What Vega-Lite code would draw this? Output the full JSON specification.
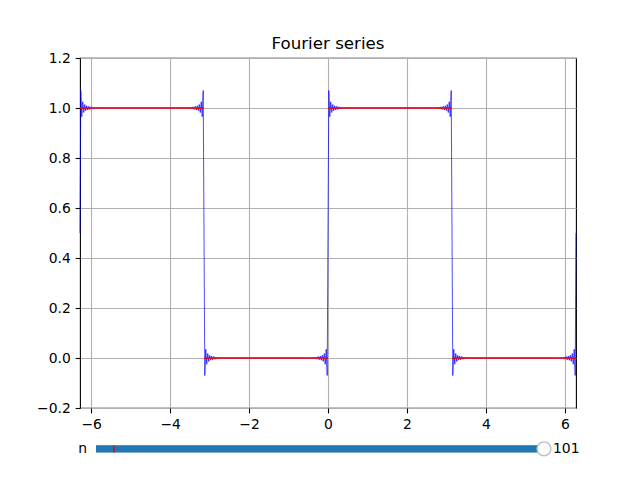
{
  "$schema": "https://vega.github.io/schema/vega-lite/v6.json",
  "width": 496,
  "height": 350,
  "autosize": {"type": "none"},
  "padding": {"left": 80, "top": 58, "right": 64, "bottom": 72},
  "background": "white",
  "config": {
    "view": {"stroke": "black", "strokeWidth": 1.1},
    "font": "DejaVu Sans",
    "axis": {
      "domain": false,
      "grid": true,
      "gridColor": "#b0b0b0",
      "gridWidth": 1.1,
      "gridOpacity": 1,
      "tickColor": "black",
      "tickSize": 4.86,
      "tickWidth": 1.1,
      "labelFont": "DejaVu Sans",
      "labelFontSize": 13.9,
      "labelColor": "black",
      "labelPadding": 4.86,
      "labelFlush": false,
      "labelOverlap": false
    }
  },
  "title": {
    "text": "Fourier series",
    "font": "DejaVu Sans",
    "fontSize": 16.67,
    "fontWeight": "normal",
    "color": "black",
    "offset": -2
  },
  "datasets": {
    "fourier": [
      {"x": -6.2832, "y": 0.5}, {"x": -6.2632, "y": 1.07}, {"x": -6.2382, "y": 0.965}, {"x": -6.2132, "y": 1.025},
      {"x": -6.1882, "y": 0.982}, {"x": -6.1632, "y": 1.014}, {"x": -6.1382, "y": 0.989}, {"x": -6.1132, "y": 1.009},
      {"x": -6.0882, "y": 0.992}, {"x": -6.0632, "y": 1.007}, {"x": -6.0332, "y": 0.994}, {"x": -6.0032, "y": 1.005},
      {"x": -5.9732, "y": 0.996}, {"x": -5.9432, "y": 1.0035}, {"x": -5.9132, "y": 0.997}, {"x": -5.8832, "y": 1.0025},
      {"x": -5.8332, "y": 0.998}, {"x": -5.7832, "y": 1.0015}, {"x": -5.6832, "y": 1.0},
      {"x": -3.7416, "y": 1.0}, {"x": -3.6416, "y": 1.0015}, {"x": -3.5916, "y": 0.998}, {"x": -3.5416, "y": 1.0025},
      {"x": -3.5116, "y": 0.997}, {"x": -3.4816, "y": 1.0035}, {"x": -3.4516, "y": 0.996}, {"x": -3.4216, "y": 1.005},
      {"x": -3.3916, "y": 0.994}, {"x": -3.3616, "y": 1.007}, {"x": -3.3366, "y": 0.992}, {"x": -3.3116, "y": 1.009},
      {"x": -3.2866, "y": 0.989}, {"x": -3.2616, "y": 1.014}, {"x": -3.2366, "y": 0.982}, {"x": -3.2116, "y": 1.025},
      {"x": -3.1866, "y": 0.965}, {"x": -3.1616, "y": 1.07}, {"x": -3.1416, "y": 0.5},
      {"x": -3.1216, "y": -0.07}, {"x": -3.0966, "y": 0.035}, {"x": -3.0716, "y": -0.025}, {"x": -3.0466, "y": 0.018},
      {"x": -3.0216, "y": -0.014}, {"x": -2.9966, "y": 0.011}, {"x": -2.9716, "y": -0.009}, {"x": -2.9466, "y": 0.008},
      {"x": -2.9216, "y": -0.007}, {"x": -2.8916, "y": 0.006}, {"x": -2.8616, "y": -0.005}, {"x": -2.8316, "y": 0.004},
      {"x": -2.8016, "y": -0.0035}, {"x": -2.7716, "y": 0.003}, {"x": -2.7416, "y": -0.0025}, {"x": -2.6916, "y": 0.002},
      {"x": -2.6416, "y": -0.0015}, {"x": -2.5416, "y": 0.0},
      {"x": -0.6, "y": 0.0}, {"x": -0.5, "y": -0.0015}, {"x": -0.45, "y": 0.002}, {"x": -0.4, "y": -0.0025},
      {"x": -0.37, "y": 0.003}, {"x": -0.34, "y": -0.0035}, {"x": -0.31, "y": 0.004}, {"x": -0.28, "y": -0.005},
      {"x": -0.25, "y": 0.006}, {"x": -0.22, "y": -0.007}, {"x": -0.195, "y": 0.008}, {"x": -0.17, "y": -0.009},
      {"x": -0.145, "y": 0.011}, {"x": -0.12, "y": -0.014}, {"x": -0.095, "y": 0.018}, {"x": -0.07, "y": -0.025},
      {"x": -0.045, "y": 0.035}, {"x": -0.02, "y": -0.07}, {"x": 0.0, "y": 0.5},
      {"x": 0.02, "y": 1.07}, {"x": 0.045, "y": 0.965}, {"x": 0.07, "y": 1.025}, {"x": 0.095, "y": 0.982},
      {"x": 0.12, "y": 1.014}, {"x": 0.145, "y": 0.989}, {"x": 0.17, "y": 1.009}, {"x": 0.195, "y": 0.992},
      {"x": 0.22, "y": 1.007}, {"x": 0.25, "y": 0.994}, {"x": 0.28, "y": 1.005}, {"x": 0.31, "y": 0.996},
      {"x": 0.34, "y": 1.0035}, {"x": 0.37, "y": 0.997}, {"x": 0.4, "y": 1.0025}, {"x": 0.45, "y": 0.998},
      {"x": 0.5, "y": 1.0015}, {"x": 0.6, "y": 1.0},
      {"x": 2.5416, "y": 1.0}, {"x": 2.6416, "y": 1.0015}, {"x": 2.6916, "y": 0.998}, {"x": 2.7416, "y": 1.0025},
      {"x": 2.7716, "y": 0.997}, {"x": 2.8016, "y": 1.0035}, {"x": 2.8316, "y": 0.996}, {"x": 2.8616, "y": 1.005},
      {"x": 2.8916, "y": 0.994}, {"x": 2.9216, "y": 1.007}, {"x": 2.9466, "y": 0.992}, {"x": 2.9716, "y": 1.009},
      {"x": 2.9966, "y": 0.989}, {"x": 3.0216, "y": 1.014}, {"x": 3.0466, "y": 0.982}, {"x": 3.0716, "y": 1.025},
      {"x": 3.0966, "y": 0.965}, {"x": 3.1216, "y": 1.07}, {"x": 3.1416, "y": 0.5},
      {"x": 3.1616, "y": -0.07}, {"x": 3.1866, "y": 0.035}, {"x": 3.2116, "y": -0.025}, {"x": 3.2366, "y": 0.018},
      {"x": 3.2616, "y": -0.014}, {"x": 3.2866, "y": 0.011}, {"x": 3.3116, "y": -0.009}, {"x": 3.3366, "y": 0.008},
      {"x": 3.3616, "y": -0.007}, {"x": 3.3916, "y": 0.006}, {"x": 3.4216, "y": -0.005}, {"x": 3.4516, "y": 0.004},
      {"x": 3.4816, "y": -0.0035}, {"x": 3.5116, "y": 0.003}, {"x": 3.5416, "y": -0.0025}, {"x": 3.5916, "y": 0.002},
      {"x": 3.6416, "y": -0.0015}, {"x": 3.7416, "y": 0.0},
      {"x": 5.6832, "y": 0.0}, {"x": 5.7832, "y": -0.0015}, {"x": 5.8332, "y": 0.002}, {"x": 5.8832, "y": -0.0025},
      {"x": 5.9132, "y": 0.003}, {"x": 5.9432, "y": -0.0035}, {"x": 5.9732, "y": 0.004}, {"x": 6.0032, "y": -0.005},
      {"x": 6.0332, "y": 0.006}, {"x": 6.0632, "y": -0.007}, {"x": 6.0882, "y": 0.008}, {"x": 6.1132, "y": -0.009},
      {"x": 6.1382, "y": 0.011}, {"x": 6.1632, "y": -0.014}, {"x": 6.1882, "y": 0.018}, {"x": 6.2132, "y": -0.025},
      {"x": 6.2382, "y": 0.035}, {"x": 6.2632, "y": -0.07}, {"x": 6.2832, "y": 0.5}
    ],
    "square": [
      {"seg": "a", "x": -6.2832, "y": 1}, {"seg": "a", "x": -3.1416, "y": 1},
      {"seg": "b", "x": -3.1416, "y": 0}, {"seg": "b", "x": 0, "y": 0},
      {"seg": "c", "x": 0, "y": 1}, {"seg": "c", "x": 3.1416, "y": 1},
      {"seg": "d", "x": 3.1416, "y": 0}, {"seg": "d", "x": 6.2832, "y": 0}
    ],
    "slider": [
      {"label": "n", "valmin": 1, "valmax": 101, "valinit": 5, "val": 101}
    ]
  },
  "layer": [
    {
      "layer": [
        {
          "data": {"name": "fourier"},
          "mark": {"type": "line", "color": "#0000ff", "strokeWidth": 0.7},
          "encoding": {
            "x": {
              "field": "x", "type": "quantitative",
              "scale": {"domain": [-6.2832, 6.2832], "nice": false, "zero": false},
              "axis": {"values": [-6, -4, -2, 0, 2, 4, 6], "format": "d", "title": null}
            },
            "y": {
              "field": "y", "type": "quantitative",
              "scale": {"domain": [-0.2, 1.2], "nice": false, "zero": false},
              "axis": {"values": [-0.2, 0, 0.2, 0.4, 0.6, 0.8, 1.0, 1.2], "format": ".1f", "title": null}
            }
          }
        },
        {
          "data": {"name": "square"},
          "mark": {"type": "line", "color": "#ff0000", "strokeWidth": 1.5},
          "encoding": {
            "x": {"field": "x", "type": "quantitative"},
            "y": {"field": "y", "type": "quantitative"},
            "detail": {"field": "seg", "type": "nominal"}
          }
        }
      ]
    },
    {
      "data": {"name": "slider"},
      "layer": [
        {
          "mark": {"type": "rect", "color": "#d3d3d3"},
          "encoding": {
            "x": {"field": "valmin", "type": "quantitative", "scale": {"domain": [1, 101], "range": [16, 464], "nice": false, "zero": false}, "axis": null},
            "x2": {"field": "valmax"},
            "y": {"datum": 0.25, "type": "quantitative", "scale": {"domain": [0, 1], "range": [398, 383.6], "nice": false, "zero": false}, "axis": null},
            "y2": {"datum": 0.75}
          }
        },
        {
          "mark": {"type": "rect", "color": "#1f77b4"},
          "encoding": {
            "x": {"field": "valmin", "type": "quantitative"},
            "x2": {"field": "val"},
            "y": {"datum": 0.25, "type": "quantitative"},
            "y2": {"datum": 0.75}
          }
        },
        {
          "mark": {"type": "rule", "color": "#ff0000", "strokeWidth": 1.39},
          "encoding": {
            "x": {"field": "valinit", "type": "quantitative"},
            "y": {"datum": 0.25, "type": "quantitative"},
            "y2": {"datum": 0.75}
          }
        },
        {
          "mark": {"type": "point", "shape": "circle", "filled": true, "fill": "white", "stroke": "#bfbfbf", "strokeWidth": 1.39, "size": 193, "opacity": 1},
          "encoding": {
            "x": {"field": "val", "type": "quantitative"},
            "y": {"datum": 0.5, "type": "quantitative"}
          }
        },
        {
          "mark": {"type": "text", "align": "right", "baseline": "middle", "dx": -9, "font": "DejaVu Sans", "fontSize": 13.9, "color": "black"},
          "encoding": {
            "x": {"field": "valmin", "type": "quantitative"},
            "y": {"datum": 0.5, "type": "quantitative"},
            "text": {"field": "label"}
          }
        },
        {
          "mark": {"type": "text", "align": "left", "baseline": "middle", "dx": 9, "font": "DejaVu Sans", "fontSize": 13.9, "color": "black"},
          "encoding": {
            "x": {"field": "valmax", "type": "quantitative"},
            "y": {"datum": 0.5, "type": "quantitative"},
            "text": {"field": "val", "type": "quantitative"}
          }
        }
      ]
    }
  ],
  "resolve": {"scale": {"x": "independent", "y": "independent"}}
}
